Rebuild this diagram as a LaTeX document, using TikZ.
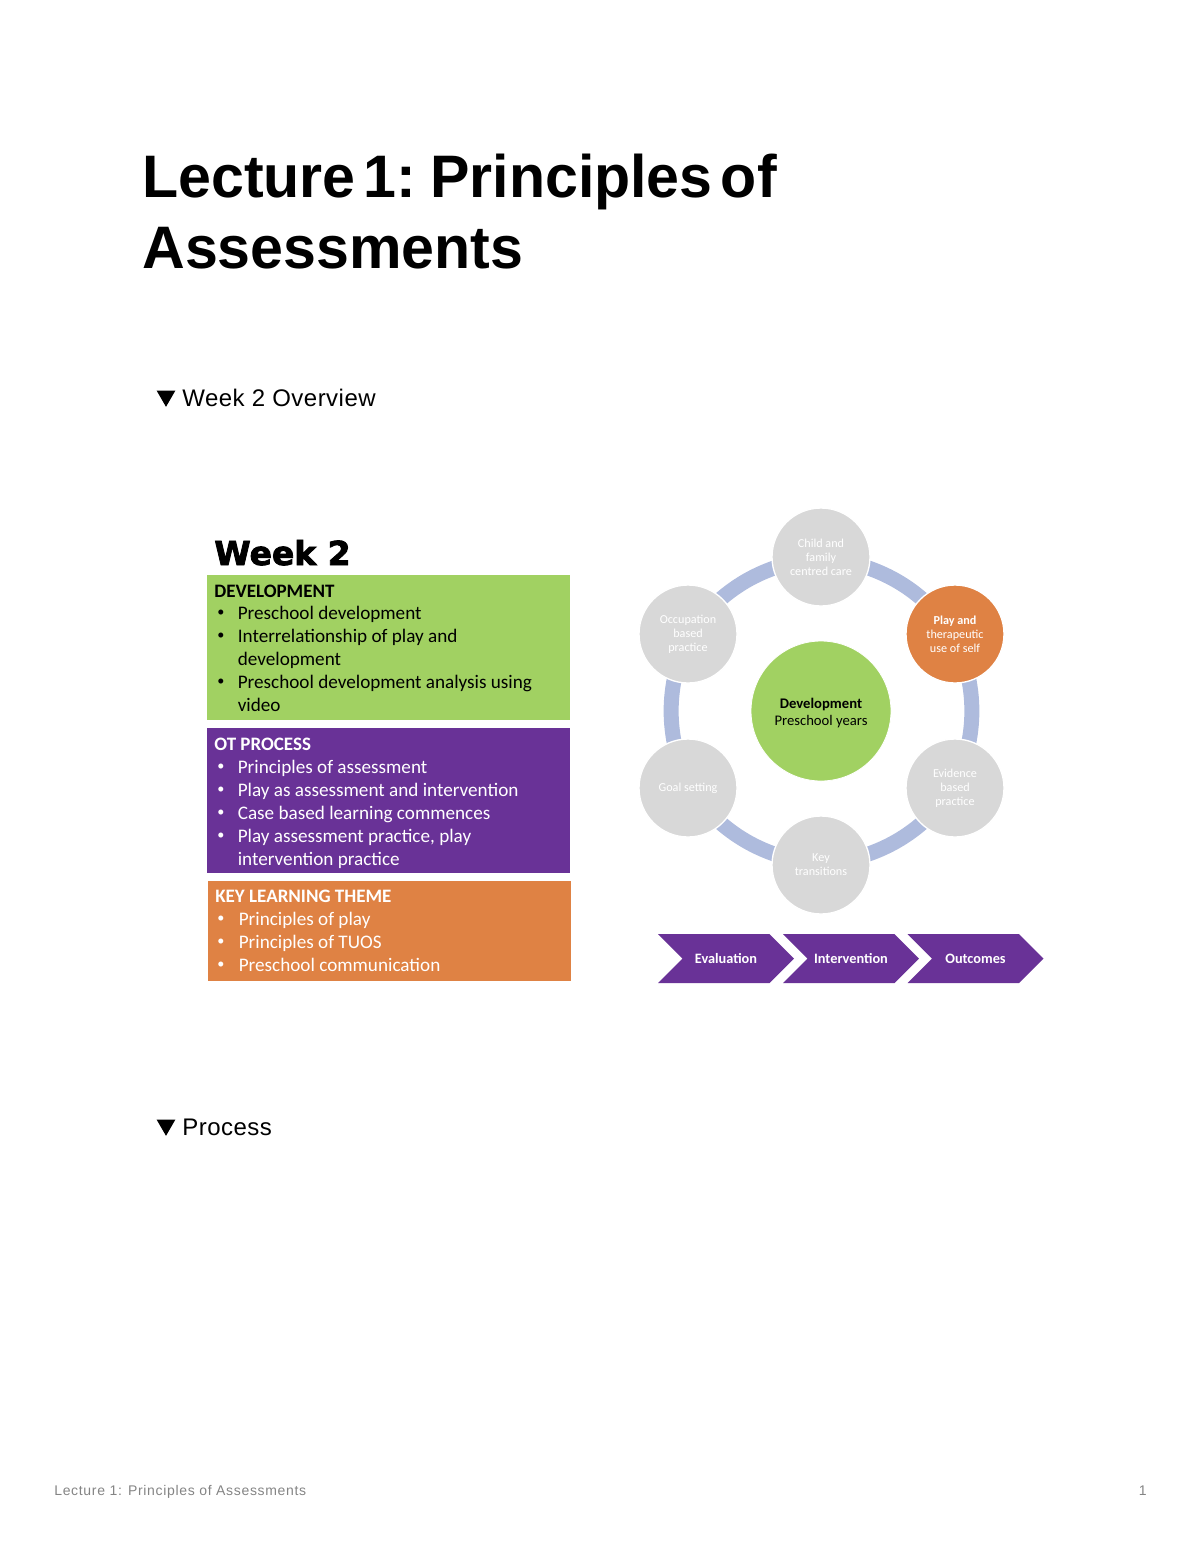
\documentclass[tikz,border=0pt]{standalone}
\usepackage{fontspec}
\usetikzlibrary{shapes.geometric,shapes.symbols,backgrounds}
\setmainfont{Liberation Sans}
\newfontfamily\titlefont[FakeStretch=0.985,WordSpace=0.5]{Liberation Sans}
\newfontfamily\slidefont{Carlito}
\newfontfamily\weekfont[BoldFeatures={FakeBold=2.5}]{DejaVu Sans}
\definecolor{devgreen}{HTML}{A1D162}
\definecolor{otpurple}{HTML}{693297}
\definecolor{themeorange}{HTML}{DF8244}
\definecolor{stepgrey}{HTML}{D8D8D8}
\definecolor{ringblue}{HTML}{AEBBDD}
\definecolor{footgrey}{HTML}{848484}
\tikzset{
  panel/.style = {draw=white, line width=0.5pt, inner sep=0pt, minimum width=218.4pt},
  line/.style = {anchor=base west, inner sep=0pt, font=\slidefont\fontsize{11.5}{13}\selectfont},
  headword/.style = {line, font=\slidefont\bfseries\fontsize{11.4}{13}\selectfont},
  dotmark/.style = {anchor=center, inner sep=0pt, font=\slidefont\fontsize{8.5}{10}\selectfont},
  stepnode/.style = {circle, draw=white, line width=0.8pt, fill=stepgrey, text=white, minimum size=58.8pt, inner sep=0pt, align=center, font=\slidefont\fontsize{7.3}{8.3}\selectfont},
  ring/.style = {draw=ringblue, line width=9pt},
  chevron/.style = {signal, signal to=east, signal from=west, signal pointer angle=90, fill=otpurple, text=white, minimum width=81.6pt, minimum height=29.4pt, inner sep=0pt, font=\slidefont\bfseries\fontsize{8.6}{10}\selectfont},
  toggle/.style = {regular polygon, regular polygon sides=3, shape border rotate=180, fill=black, inner sep=0pt, minimum size=13pt},
  headline/.style = {anchor=base west, inner sep=0pt, font=\fontsize{14.4}{16}\selectfont\addfontfeature{LetterSpace=2}},
  pagetitle/.style = {anchor=base west, inner sep=0pt, font=\titlefont\bfseries\fontsize{36}{42}\selectfont},
  footer/.style = {inner sep=0pt, text=footgrey, font=\fontsize{8.4}{10}\selectfont\addfontfeature{LetterSpace=4.8}}
}
\begin{document}
\begin{tikzpicture}[x=0.6pt, y=-0.6pt]
  \useasboundingbox (0,0) rectangle (1200,1553);
  % page title
  \node[pagetitle] (title1) at (142,197) {Lecture 1: Principles of};
  \node[pagetitle] (title2) at (142,268) {Assessments};
  \node[toggle] (tog1) at (166,396) {};
  \node[headline] (week) at (182,406) {Week 2 Overview};
  \node[toggle] (tog2) at (166,1125) {};
  \node[headline] (proc) at (182,1135) {Process};
  % left panels
  \node[anchor=base west, inner sep=0pt, font=\weekfont\bfseries\fontsize{19.8}{22}\selectfont] (wk) at (214,565) {Week 2};
  \node[panel, fill=devgreen, minimum height=87.6pt] (dev) at (388.6,647) {};
  \node[panel, fill=otpurple, minimum height=87.6pt] (ot) at (388.6,800.3) {};
  \node[panel, fill=themeorange, minimum height=60.2pt] (key) at (389.5,931) {};
  \node[headword] (devh) at (214,597) {DEVELOPMENT};
  \foreach \y/\b/\t in {619/1/Preschool development, 642/1/Interrelationship of play and, 665/0/development, 688/1/Preschool development analysis using, 711/0/video} {
    \node[line] at (237.5,\y) {\t};
    \ifnum\b=1 \node[dotmark] at (221,\y-6) {\textbullet}; \fi
  }
  \node[headword, text=white] (oth) at (214,750) {OT PROCESS};
  \foreach \y/\b/\t in {773/1/Principles of assessment, 796/1/Play as assessment and intervention, 819/1/Case based learning commences, 842/1/{Play assessment practice, play}, 865/0/intervention practice} {
    \node[line, text=white] at (237.5,\y) {\t};
    \ifnum\b=1 \node[dotmark, text=white] at (221,\y-6) {\textbullet}; \fi
  }
  \node[headword, text=white] (keyh) at (215,902) {KEY LEARNING THEME};
  \foreach \y/\t in {925/Principles of play, 948/Principles of TUOS, 971/Preschool communication} {
    \node[line, text=white] at (238.5,\y) {\t};
    \node[dotmark, text=white] at (221,\y-6) {\textbullet};
  }
  % cycle
  \node[circle, draw=white, line width=0.5pt, fill=devgreen, minimum size=84pt, inner sep=0pt] (centre) at (821,711) {};
  \node[inner sep=0pt, align=center, font=\slidefont\fontsize{8.8}{9.8}\selectfont] (centretxt) at (821,713) {\textbf{Development}\\Preschool years};
  \node[stepnode] (child) at (821,557) {Child and\\family\\centred care};
  \node[stepnode, fill=themeorange] (play) at (955,634) {\textbf{Play and}\\therapeutic\\use of self};
  \node[stepnode] (evid) at (955,788) {Evidence\\based\\practice};
  \node[stepnode] (key2) at (821,865) {Key\\transitions};
  \node[stepnode] (goal) at (688,788) {Goal setting};
  \node[stepnode] (occ) at (688,634) {Occupation\\based\\practice};
  \begin{scope}[on background layer]
    \foreach \a/\b in {child/play, play/evid, evid/key2, key2/goal, goal/occ, occ/child}
      \draw[ring] (\a.center) to [bend left=22] (\b.center);
  \end{scope}
  % chevrons
  \node[chevron] (eval) at (726,958.5) {Evaluation};
  \node[chevron] (interv) at (851,958.5) {Intervention};
  \node[chevron] (outc) at (975.5,958.5) {Outcomes};
  % footer
  \node[footer, anchor=base west] (foot) at (54,1495) {Lecture 1: Principles of Assessments};
  \node[footer, anchor=base east] (page) at (1147,1495) {1};
\end{tikzpicture}
\end{document}
